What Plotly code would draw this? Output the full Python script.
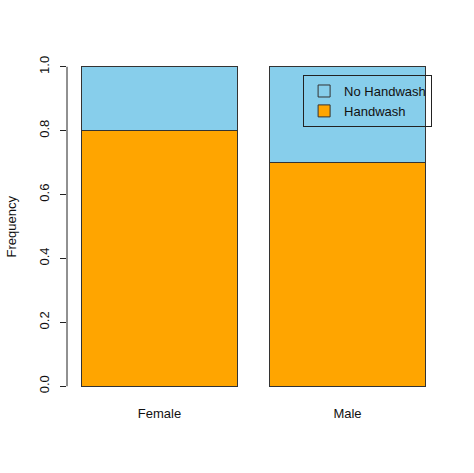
import plotly.graph_objects as go

categories = ["Female", "Male"]
handwash = [0.8, 0.7]
no_handwash = [0.2, 0.3]
series_names = ["Handwash", "No Handwash"]
colors = ["#FFA500", "#87CEEB"]
y_ticks = [0.0, 0.2, 0.4, 0.6, 0.8, 1.0]
y_tick_labels = ["0.0", "0.2", "0.4", "0.6", "0.8", "1.0"]

FONT = "Liberation Sans, Arial, sans-serif"

fig = go.Figure()
for name, vals, col in zip(series_names, [handwash, no_handwash], colors):
    fig.add_trace(go.Bar(
        x=categories, y=vals, name=name,
        marker=dict(color=col, line=dict(color="#333333", width=1)),
    ))

fig.update_layout(
    width=474, height=473,
    margin=dict(l=67, r=34, t=54, b=74),
    barmode="stack",
    bargap=0.165,
    paper_bgcolor="white",
    plot_bgcolor="white",
    font=dict(family=FONT, size=13, color="#111111"),
    showlegend=True,
    legend=dict(
        x=0.633, y=0.939, xanchor="left", yanchor="top",
        bgcolor="rgba(0,0,0,0)", bordercolor="#222222", borderwidth=1,
        font=dict(family=FONT, size=13, color="#111111"),
        traceorder="reversed",
        tracegroupgap=0, itemwidth=30,
    ),
    xaxis=dict(
        range=[-0.492, 1.492], showgrid=False, zeroline=False, showline=False,
        ticks="", tickfont=dict(size=13), ticklabelstandoff=5,
    ),
    yaxis=dict(
        range=[-0.04, 1.04], showgrid=False, zeroline=False, showline=False,
        tickmode="array", tickvals=y_ticks, ticktext=y_tick_labels,
        ticks="outside", ticklen=6, tickcolor="#222222", tickwidth=1,
        tickangle=-90, tickfont=dict(size=13), ticklabelstandoff=6,
    ),
    shapes=[dict(type="line", xref="paper", yref="y", x0=0, x1=0, y0=0, y1=1,
                 line=dict(color="#222222", width=1))],
    annotations=[dict(text="Frequency", xref="paper", yref="paper", x=0, y=0.5,
                      xanchor="center", yanchor="middle", xshift=-56, textangle=-90,
                      showarrow=False, font=dict(family=FONT, size=13, color="#111111"))],
)

fig.write_html("out.html")
